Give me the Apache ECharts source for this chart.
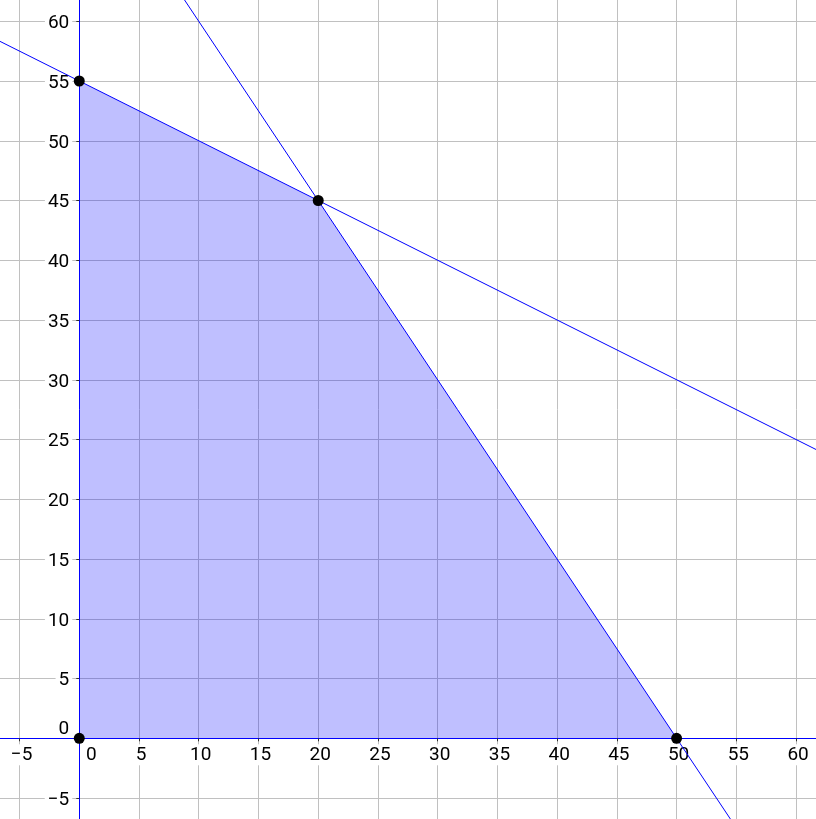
<!DOCTYPE html>
<html>
<head>
<meta charset="utf-8">
<script src="https://cdn.jsdelivr.net/npm/echarts@6/dist/echarts.min.js"></script>
<style>
html,body{margin:0;padding:0;background:#fff;}
#chart{width:816px;height:819px;}
</style>
</head>
<body>
<div id="chart"></div>
<script>
// Feasible region (upper boundary) and its corner points
const regionEdge = [[0, 55], [20, 45], [50, 0]];
const vertices = [[0, 0], [0, 55], [20, 45], [50, 0]];
// Constraint lines (two points on each)
const line1 = [[-10, 60], [65, 22.5]];   // x + 2y = 110
const line2 = [[0, 75], [60, -15]];      // 3x + 2y = 150
// Axis range and tick step
const axisMin = -10, axisMax = 65, tickStep = 5;

const chart = echarts.init(document.getElementById('chart'), null, {renderer: 'canvas'});

function fmt(v, which) {
  if (v === 0) return which === 'x' ? '{zx|0}' : '{zy|0}';
  const s = v < 0 ? '\u2212' + Math.abs(v) : String(v);
  return (which === 'x' ? '{nx|' : '{ny|') + s + '}';
}
const txt = {fontFamily: 'Roboto', fontSize: 19, color: '#000'};
const rich = {
  nx: Object.assign({backgroundColor: '#fff', padding: [1, 1, 1, 5]}, txt),
  ny: Object.assign({backgroundColor: '#fff', padding: [5, 3, 1, 3]}, txt),
  zx: Object.assign({padding: [1, 0, 1, 24]}, txt),
  zy: Object.assign({padding: [1, 3, 19, 0]}, txt)
};
// Grid extends past the canvas so the visible window is about -6.6..61.6 / -6.8..61.8
const grid = {left: -40.2, right: -39.8, top: -38.5, bottom: -38.8};
const gridW = 816 - grid.left - grid.right, gridH = 819 - grid.top - grid.bottom;
// shift the axes from the grid edges onto the zero lines
const yAxisOffset = -(0 - axisMin) / (axisMax - axisMin) * gridW;
const xAxisOffset = -(0 - axisMin) / (axisMax - axisMin) * gridH;

const gridAxisCommon = {
  type: 'value', min: axisMin, max: axisMax, interval: tickStep,
  axisLine: {show: false}, axisTick: {show: false}, axisLabel: {show: false},
  splitLine: {show: true, lineStyle: {color: '#c0c0c0', width: 1}}, z: 0
};
chart.setOption({
  animation: false,
  backgroundColor: '#fff',
  grid: Object.assign({containLabel: false, outerBoundsMode: 'none'}, grid),
  xAxis: [
    {
      type: 'value', min: axisMin, max: axisMax, interval: tickStep, z: 1,
      position: 'bottom', offset: xAxisOffset,
      axisLine: {show: true, onZero: false, lineStyle: {color: '#0000ff', width: 1}},
      axisTick: {show: true, length: 3, lineStyle: {color: '#333'}},
      axisLabel: {show: true, interval: 0, margin: 6, formatter: v => fmt(v, 'x'), rich: rich},
      splitLine: {show: false}
    },
    Object.assign({position: 'top'}, gridAxisCommon)
  ],
  yAxis: [
    {
      type: 'value', min: axisMin, max: axisMax, interval: tickStep, z: 1,
      position: 'left', offset: yAxisOffset,
      axisLine: {show: true, onZero: false, lineStyle: {color: '#0000ff', width: 1}},
      axisTick: {show: true, length: 3, lineStyle: {color: '#333'}},
      axisLabel: {show: true, interval: 0, margin: 7, formatter: v => fmt(v, 'y'), rich: rich},
      splitLine: {show: false}
    },
    Object.assign({position: 'right'}, gridAxisCommon)
  ],
  series: [
    {
      type: 'line', xAxisIndex: 0, yAxisIndex: 0, data: regionEdge, symbol: 'none', silent: true,
      lineStyle: {width: 0, opacity: 0}, areaStyle: {color: 'rgba(0,0,255,0.25)', opacity: 1, origin: 0}, z: 2
    },
    {
      type: 'line', xAxisIndex: 0, yAxisIndex: 0, data: line1, symbol: 'none', clip: true,
      lineStyle: {color: '#0000ff', width: 1}, z: 3
    },
    {
      type: 'line', xAxisIndex: 0, yAxisIndex: 0, data: line2, symbol: 'none', clip: true,
      lineStyle: {color: '#0000ff', width: 1}, z: 3
    },
    {
      type: 'scatter', xAxisIndex: 0, yAxisIndex: 0, data: vertices, symbol: 'circle', symbolSize: 11,
      itemStyle: {color: '#000', opacity: 1}, z: 5
    }
  ]
});
</script>
</body>
</html>
